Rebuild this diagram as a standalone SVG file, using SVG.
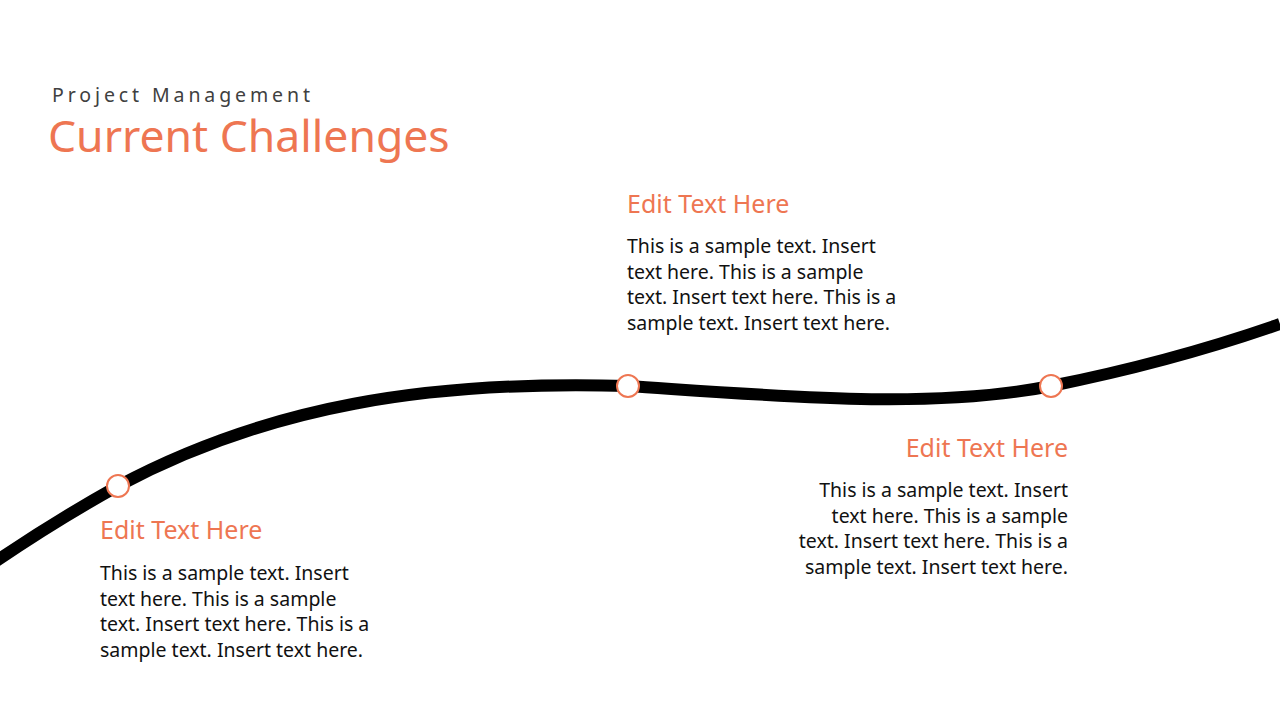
<svg xmlns="http://www.w3.org/2000/svg" width="1280" height="720" viewBox="0 0 1280 720">
<style>
.sub{font-family:"Noto Sans",sans-serif;font-size:19.5px;fill:#404040;letter-spacing:3.9px}
.title{font-family:"Noto Sans",sans-serif;font-size:44.5px;fill:#EE7652}
.head{font-family:"Noto Sans",sans-serif;font-size:25px;fill:#EE7652}
.body{font-family:"Noto Sans",sans-serif;font-size:19.5px;fill:#111}
.dot{fill:#fff;stroke:#EE7652;stroke-width:2}
</style>
<rect width="1280" height="720" fill="#fff"/>
<g id="header">
<text class="sub" x="52" y="102">Project Management</text>
<text class="title" x="48" y="152">Current Challenges</text>
</g>
<g id="connectors">
<path d="M -5 562 C 30 538, 75 510, 118 486 C 268 406, 428 380, 628 386 C 778 396, 931 410, 1051 386 C 1131 370, 1200 352, 1280 324" fill="none" stroke="#000" stroke-width="12"/>
</g>
<g id="node1">
<circle class="dot" cx="118" cy="486" r="11"/>
<text class="head" x="100" y="539">Edit Text Here</text>
<text class="body" x="100" y="580">This is a sample text. Insert</text>
<text class="body" x="100" y="605.5">text here. This is a sample</text>
<text class="body" x="100" y="631">text. Insert text here. This is a</text>
<text class="body" x="100" y="656.5">sample text. Insert text here.</text>
</g>
<g id="node2">
<circle class="dot" cx="628" cy="386" r="11"/>
<text class="head" x="627" y="213">Edit Text Here</text>
<text class="body" x="627" y="253">This is a sample text. Insert</text>
<text class="body" x="627" y="278.5">text here. This is a sample</text>
<text class="body" x="627" y="304">text. Insert text here. This is a</text>
<text class="body" x="627" y="329.5">sample text. Insert text here.</text>
</g>
<g id="node3">
<circle class="dot" cx="1051" cy="386" r="11"/>
<text class="head" x="1068" y="457" text-anchor="end">Edit Text Here</text>
<text class="body" x="1068" y="497" text-anchor="end">This is a sample text. Insert</text>
<text class="body" x="1068" y="522.5" text-anchor="end">text here. This is a sample</text>
<text class="body" x="1068" y="548" text-anchor="end">text. Insert text here. This is a</text>
<text class="body" x="1068" y="573.5" text-anchor="end">sample text. Insert text here.</text>
</g>
</svg>
